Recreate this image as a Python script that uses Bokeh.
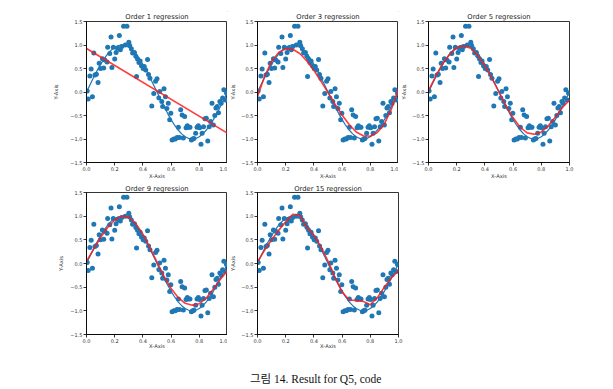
from bokeh.plotting import figure
from bokeh.layouts import column, row
from bokeh.models import Div, FixedTicker
from bokeh.embed import file_html
from bokeh.resources import INLINE

# ---------------- data ----------------
x_data = [0.005, 0.012, 0.024, 0.033, 0.042, 0.052, 0.06, 0.07, 0.082, 0.09,
          0.099, 0.113, 0.122, 0.13, 0.146, 0.15, 0.165, 0.174, 0.18, 0.19,
          0.2, 0.21, 0.22, 0.233, 0.24, 0.25, 0.263, 0.287, 0.275, 0.3,
          0.306, 0.318, 0.327, 0.34, 0.35, 0.355, 0.362, 0.372, 0.38, 0.39,
          0.402, 0.41, 0.42, 0.433, 0.44, 0.45, 0.463, 0.477, 0.49, 0.5,
          0.513, 0.52, 0.534, 0.54, 0.55, 0.56, 0.57, 0.58, 0.59, 0.598,
          0.607, 0.62, 0.63, 0.642, 0.652, 0.66, 0.668, 0.678, 0.687, 0.696,
          0.706, 0.715, 0.725, 0.734, 0.744, 0.753, 0.762, 0.774, 0.784, 0.793,
          0.802, 0.812, 0.82, 0.83, 0.84, 0.85, 0.86, 0.87, 0.88, 0.89,
          0.9, 0.91, 0.918, 0.927, 0.936, 0.946, 0.955, 0.965, 0.974, 0.984,
          0.993]
y_data = [0.02, -0.15, 0.34, 0.49, -0.1, 0.83, 0.36, 0.38, 0.2, 0.61,
          0.5, 0.71, 0.51, 0.68, 0.64, 0.95, 0.82, 1.17, 0.52, 0.95,
          0.7, 0.84, 0.93, 1.2, 0.9, 0.97, 1.4, 1.4, 1.0, 1.06,
          0.99, 0.92, 0.83, 0.84, 0.76, 0.33, 0.7, 0.63, 0.66, 0.56,
          0.5, 0.54, 0.47, 0.69, 0.37, 0.29, -0.3, -0.03, 0.23, 0.28,
          -0.13, 0.01, -0.2, -0.31, 0.07, -0.1, -0.35, -0.24, -0.59, -0.45,
          -1.02, -1.0, -1.0, -0.97, -0.75, -0.97, -0.38, -0.49, -0.98, -0.52,
          -0.76, -0.72, -0.75, -0.75, -1.02, -1.0, -0.99, -0.88, -0.75, -0.72,
          -0.76, -1.11, -0.88, -0.74, -0.57, -0.56, -1.04, -0.74, -0.63, -0.24,
          -0.7, -0.5, -0.34, -0.31, -0.44, -0.2, -0.24, -0.13, 0.05, -0.17,
          -0.02]

# true curve (blue line), read at steps of 0.025
true_x = [0.0, 0.025, 0.05, 0.075, 0.1, 0.125, 0.15, 0.175, 0.2, 0.225,
          0.25, 0.275, 0.3, 0.325, 0.35, 0.375, 0.4, 0.425, 0.45, 0.475,
          0.5, 0.525, 0.55, 0.575, 0.6, 0.625, 0.65, 0.675, 0.7, 0.725,
          0.75, 0.775, 0.8, 0.825, 0.85, 0.875, 0.9, 0.925, 0.95, 0.975, 1.0]
true_y = [0.0, 0.156, 0.309, 0.454, 0.588, 0.707, 0.809, 0.891, 0.951, 0.988,
          1.0, 0.988, 0.951, 0.891, 0.809, 0.707, 0.588, 0.454, 0.309, 0.156,
          0.0, -0.156, -0.309, -0.454, -0.588, -0.707, -0.809, -0.891, -0.951, -0.988,
          -1.0, -0.988, -0.951, -0.891, -0.809, -0.707, -0.588, -0.454, -0.309, -0.156, 0.0]

# fitted curves (red lines), read at steps of 0.05
fit_x = [0.0, 0.05, 0.1, 0.15, 0.2, 0.25, 0.3, 0.35, 0.4, 0.45,
         0.5, 0.55, 0.6, 0.65, 0.7, 0.75, 0.8, 0.85, 0.9, 0.95, 1.0]
fit1_x = [0.0, 1.0]
fit1_y = [0.925, -0.876]
fit3_y = [-0.1, 0.33, 0.65, 0.84, 0.92, 0.91, 0.82, 0.66, 0.46, 0.23,
          -0.015, -0.26, -0.49, -0.69, -0.85, -0.93, -0.94, -0.86, -0.68, -0.36, 0.07]
fit5_y = [0.03, 0.33, 0.6, 0.8, 0.94, 0.98, 0.93, 0.78, 0.56, 0.29,
          0.0, -0.3, -0.55, -0.75, -0.87, -0.9, -0.85, -0.72, -0.53, -0.33, -0.17]
fit9_y = [0.05, 0.3, 0.55, 0.76, 0.92, 1.0, 0.98, 0.84, 0.62, 0.33,
          0.03, -0.27, -0.53, -0.72, -0.84, -0.88, -0.85, -0.73, -0.54, -0.33, -0.15]
fit15_y = [0.04, 0.28, 0.5, 0.7, 0.88, 1.04, 1.02, 0.76, 0.6, 0.35,
           0.05, -0.3, -0.6, -0.77, -0.78, -0.8, -0.87, -0.72, -0.5, -0.3, -0.15]

titles = ["Order 1 regression", "Order 3 regression", "Order 5 regression",
          "Order 9 regression", "Order 15 regression"]
x_ticks = [0.0, 0.2, 0.4, 0.6, 0.8, 1.0]
x_tick_labels = ["0.0", "0.2", "0.4", "0.6", "0.8", "1.0"]
y_ticks = [-1.5, -1.0, -0.5, 0.0, 0.5, 1.0, 1.5]
y_tick_labels = ["\u22121.5", "\u22121.0", "\u22120.5", "0.0", "0.5", "1.0", "1.5"]
x_label = "X-Axis"
y_label = "Y-Axis"
caption = "그림&nbsp;14. Result for Q5, code"

FONT = "DejaVu Sans"


def make(title, fx, fy, bl, ls, br, bt, bb, fh, tstand, xls):
    p = figure(frame_width=141, frame_height=fh, x_range=(0, 1), y_range=(-1.5, 1.5),
               output_backend="svg", toolbar_location=None,
               min_border_left=bl, min_border_right=br, min_border_top=bt,
               min_border_bottom=bb, title=title)
    p.title.text_font = FONT
    p.title.text_font_size = "6.8px"
    p.title.text_font_style = "normal"
    p.title.align = "center"
    p.title.standoff = tstand
    p.title.text_color = "#222222"
    p.outline_line_color = "black"
    p.outline_line_width = 0.8
    p.xgrid.visible = False
    p.ygrid.visible = False
    p.xaxis.ticker = FixedTicker(ticks=x_ticks)
    p.yaxis.ticker = FixedTicker(ticks=y_ticks)
    p.xaxis.major_label_overrides = {t: s for t, s in zip(x_ticks, x_tick_labels)}
    p.yaxis.major_label_overrides = {t: s for t, s in zip(y_ticks, y_tick_labels)}
    p.xaxis.axis_label = x_label
    p.yaxis.axis_label = y_label
    for ax in (p.xaxis[0], p.yaxis[0]):
        ax.major_label_text_font = FONT
        ax.major_label_text_font_size = "5px"
        ax.major_label_text_color = "#333333"
        ax.axis_label_text_font = FONT
        ax.axis_label_text_font_size = "5.2px"
        ax.axis_label_text_font_style = "normal"
        ax.axis_label_text_color = "#333333"
        ax.minor_tick_line_color = None
        ax.major_tick_in = 0
        ax.major_tick_out = 3
        ax.major_label_standoff = 1
        ax.axis_line_width = 0.8
        ax.major_tick_line_width = 0.8
    p.xaxis.axis_label_standoff = xls
    p.yaxis.axis_label_standoff = ls
    p.scatter(x_data, y_data, size=5, color="#1f77b4", line_color=None)
    p.line(true_x, true_y, line_color="#1f77b4", line_width=1.2)
    p.line(fx, fy, line_color="#ff1a1a", line_width=1.6, line_alpha=0.85)
    return p


f1 = make(titles[0], fit1_x, fit1_y, 86, 8, 0, 15, 21, 141, 2, -1)
f2 = make(titles[1], fit_x, fit3_y, 28, 2, 0, 15, 21, 141, 2, -1)
f3 = make(titles[2], fit_x, fit5_y, 28, 2, 40, 15, 21, 141, 2, -1)
f4 = make(titles[3], fit_x, fit9_y, 86, 3, 0, 9, 20, 142, -1, -3)
f5 = make(titles[4], fit_x, fit15_y, 28, 2, 20, 9, 20, 142, -1, -3)

top_line = Div(text='<div style="margin-left:53px;margin-top:5px;width:555px;height:1px;background:#d6d6d6"></div>',
               width=608, height=6, margin=0)

cap = Div(text='<div style="padding-left:250px;padding-top:19px;font-family:\'Liberation Serif\',\'Noto Sans CJK KR\',serif;'
               'font-size:11.5px;line-height:12px;white-space:nowrap;color:#111">' + caption + '</div>',
          width=600, height=34, margin=0)

layout = column(top_line, row(f1, f2, f3), row(f4, f5), cap)
open("out.html", "w").write(file_html(layout, INLINE))
